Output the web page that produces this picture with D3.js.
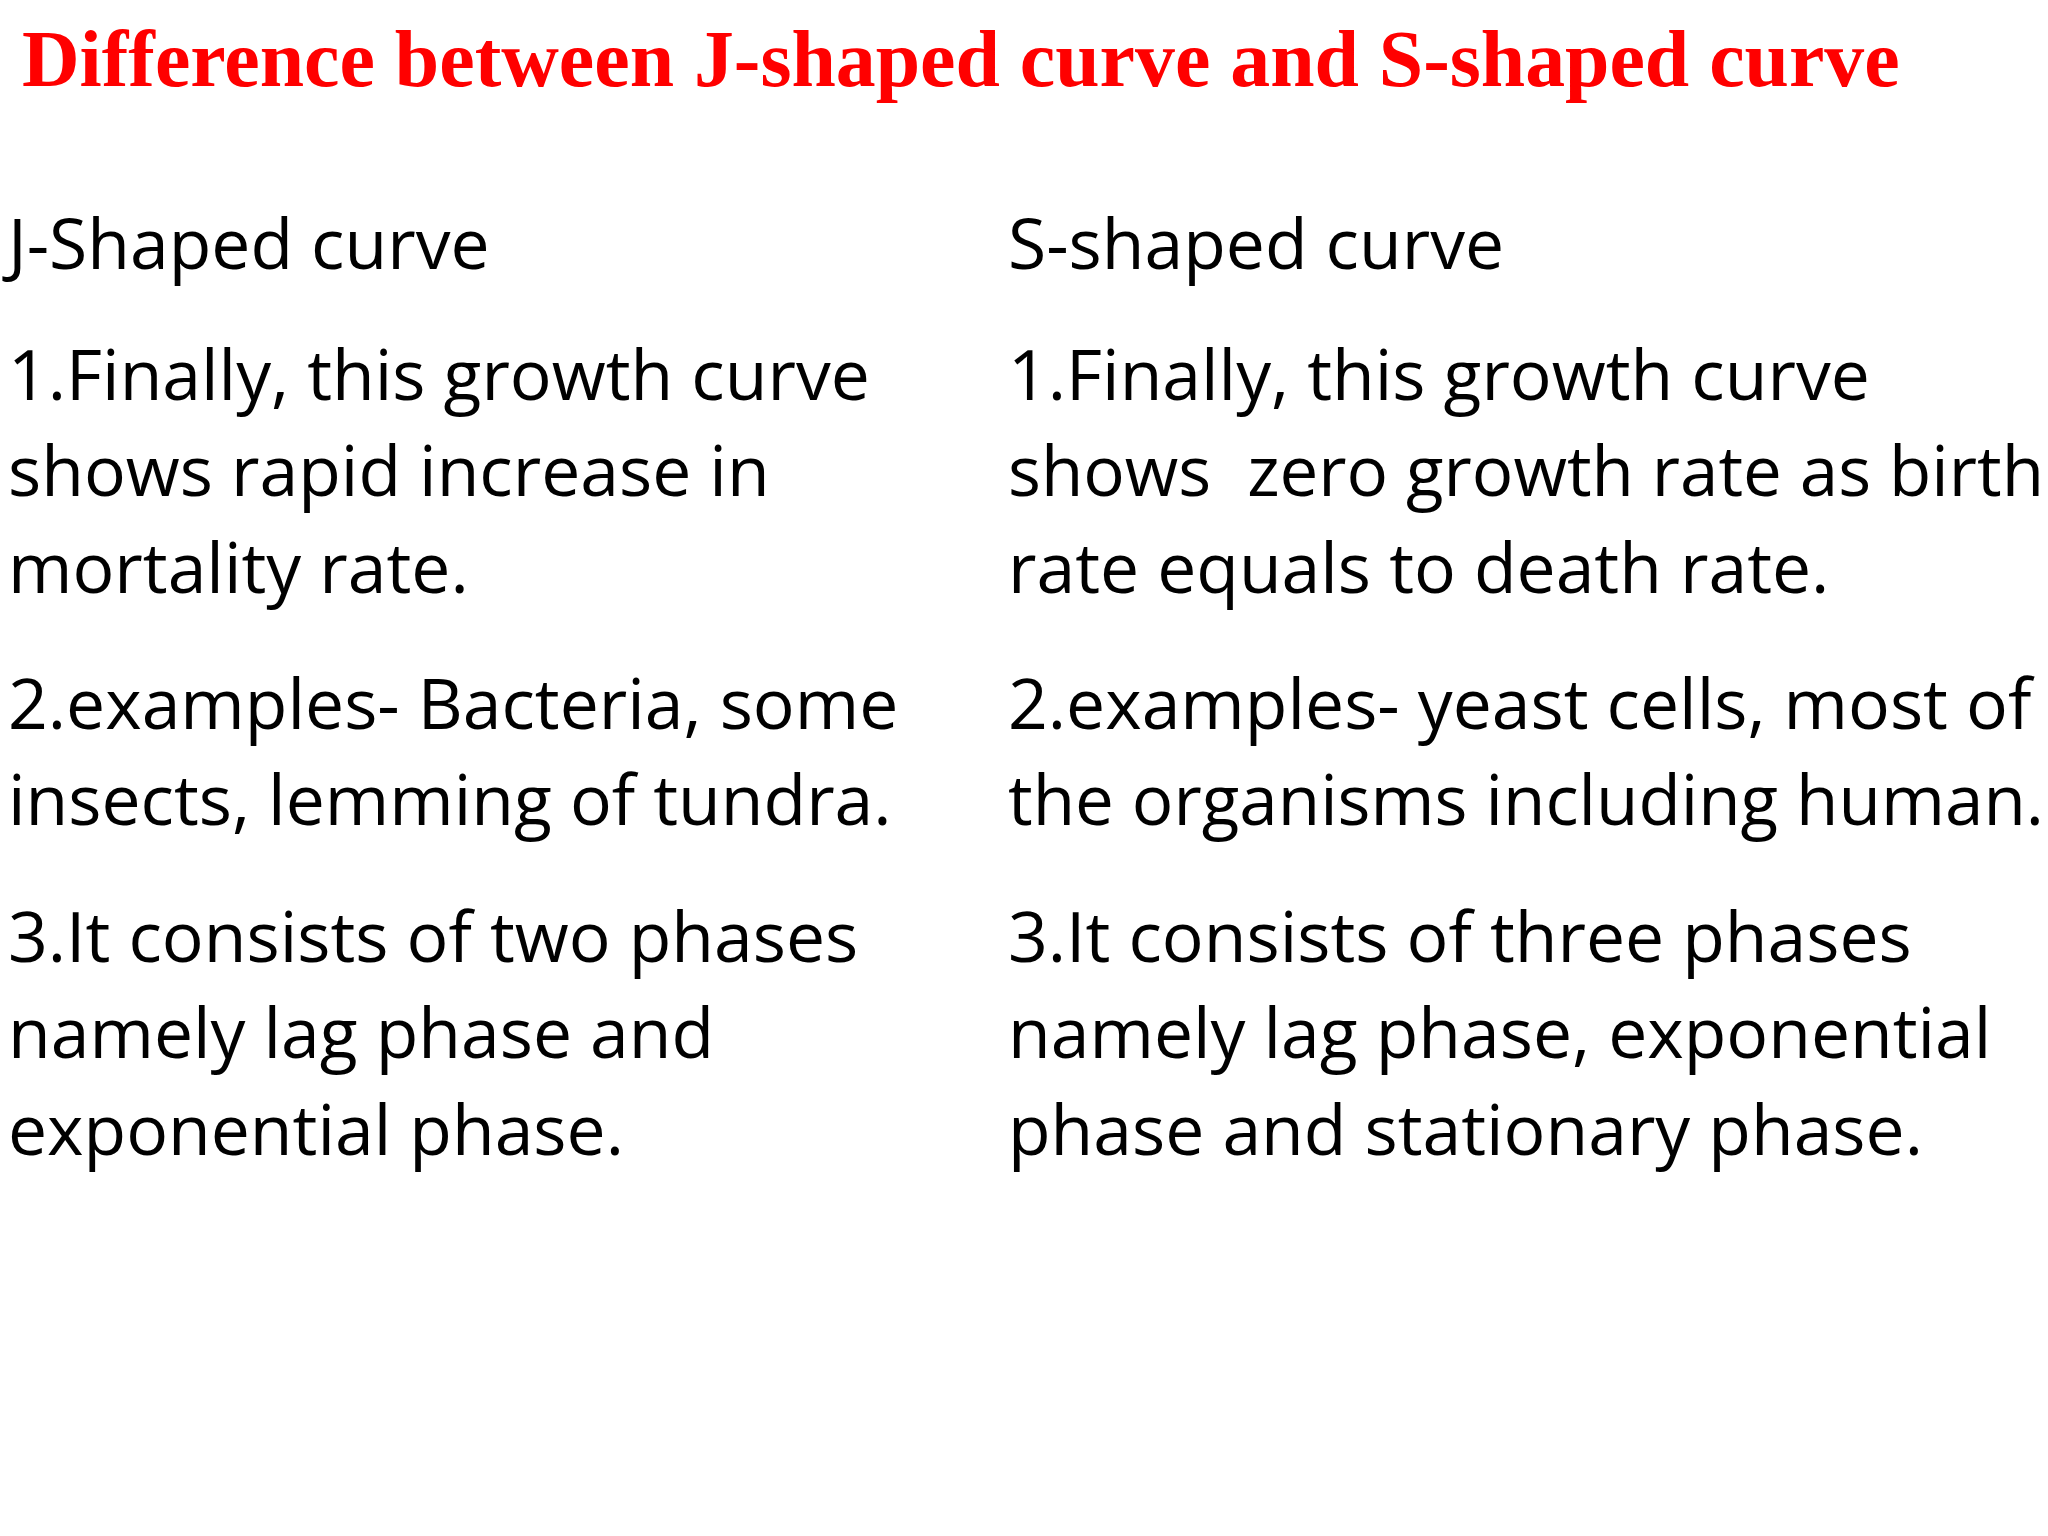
<!DOCTYPE html>
<html>
<head>
<meta charset="utf-8">
<script src="https://cdn.jsdelivr.net/npm/d3@7"></script>
<style>
  body { margin: 0; background: #fff; }
  svg { display: block; }
</style>
</head>
<body>
<div id="slide"></div>
<script>
var titleText = "Difference between J-shaped curve and S-shaped curve";

var leftLines = [
  "J-Shaped curve",
  "1.Finally, this growth curve",
  "shows rapid increase in",
  "mortality rate.",
  "2.examples- Bacteria, some",
  "insects, lemming of tundra.",
  "3.It consists of two phases",
  "namely lag phase and",
  "exponential phase."
];

var rightLines = [
  "S-shaped curve",
  "1.Finally, this growth curve",
  "shows  zero growth rate as birth",
  "rate equals to death rate.",
  "2.examples- yeast cells, most of",
  "the organisms including human.",
  "3.It consists of three phases",
  "namely lag phase, exponential",
  "phase and stationary phase."
];

var baselines = [269, 400, 496, 593, 729, 825, 962, 1058, 1155];

var width = 2048, height = 1536;

var svg = d3.select("#slide")
  .append("svg")
  .attr("width", width)
  .attr("height", height);

// title
var title = svg.append("text")
  .attr("x", 22)
  .attr("y", 86)
  .attr("fill", "#ff0000")
  .attr("font-family", "'Liberation Serif', 'Times New Roman', serif")
  .attr("font-weight", "bold")
  .attr("font-size", 68)
  .style("white-space", "pre")
  .text(titleText);
var tw = title.node().getComputedTextLength();
title.attr("font-size", 68 * 1878 / tw);

// body text: size fitted so the reference line width matches
var probe = svg.append("text")
  .attr("font-family", "'Open Sans', sans-serif")
  .attr("font-size", 70)
  .text(leftLines[1]);
var fs = 70 * 862 / probe.node().getComputedTextLength();
probe.remove();

function column(lines, x) {
  var maxW = width - x - 4;
  svg.append("g")
    .selectAll("text")
    .data(lines)
    .join("text")
    .attr("x", x)
    .attr("y", function(d, i) { return baselines[i]; })
    .attr("fill", "#000")
    .attr("font-family", "'Open Sans', sans-serif")
    .attr("font-size", fs)
    .style("white-space", "pre")
    .text(function(d) { return d; })
    .each(function() {
      // squeeze lines that would run off the slide
      if (this.getComputedTextLength() > maxW) {
        d3.select(this).attr("textLength", maxW).attr("lengthAdjust", "spacingAndGlyphs");
      }
    });
}

column(leftLines, 8);
column(rightLines, 1008);
</script>
</body>
</html>
